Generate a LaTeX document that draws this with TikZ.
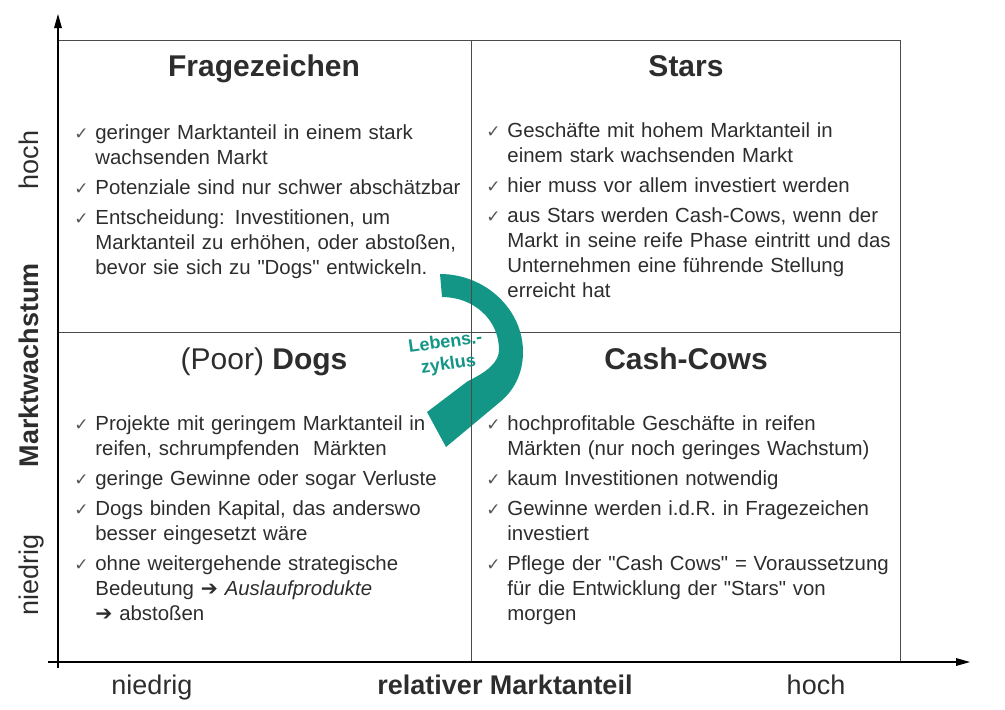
\documentclass[tikz,border=0pt]{standalone}
\usepackage{fontspec}
\setmainfont{Liberation Sans}
\newfontfamily\dingfont{DejaVu Sans}

\definecolor{txtgray}{RGB}{45,45,45}
\definecolor{linegray}{RGB}{75,75,75}
\definecolor{chkgray}{RGB}{85,85,85}
\definecolor{zyklus}{RGB}{20,150,135}

% one line of a quadrant list, with a check mark and a hanging indent
\newcommand{\chk}[1]{\noindent\hangindent=10.5pt\hangafter=1%
  \makebox[10.5pt][l]{\color{chkgray}\dingfont\fontsize{8.5}{8.5}\selectfont ✓}#1\par\vspace{2.5pt}}
\newcommand{\pfeil}{{\dingfont ➔}}
\newcommand{\qt}[1]{\textquotedbl #1\textquotedbl}

\tikzset{
  bcgtitle/.style={font=\fontsize{15}{18}\selectfont\bfseries, text=txtgray, inner sep=0pt, anchor=base},
  bcglist/.style={anchor=base west, text width=205pt, align=left, inner sep=0pt,
    font=\fontsize{10.2}{12.5}\selectfont, text=txtgray},
  axislabel/.style={font=\fontsize{13.5}{16}\selectfont, text=txtgray, inner sep=0pt, anchor=base},
  zyklustext/.style={font=\fontsize{9}{11}\selectfont\bfseries, text=zyklus, align=center, inner sep=0pt}
}

\begin{document}
\begin{tikzpicture}[x=0.5pt,y=0.5pt]
\useasboundingbox (0,0) rectangle (1005,-709);
% frame
\draw [linegray] (58,-332) -- (900,-332);
% life cycle arrow
\fill [zyklus] (440,-274) .. controls (485,-274) and (523,-309) .. (523,-352)
  .. controls (523,-376) and (512,-392) .. (500,-402)
  -- (446,-447) -- (427,-412) -- (468,-381)
  .. controls (487,-372) and (499,-362) .. (499,-350)
  .. controls (499,-319) and (473,-297) .. (442,-297) -- cycle;
\draw [linegray] (58,-40) -- (900,-40) -- (900,-662);
\draw [linegray] (471,-40) -- (471,-662);
% axes
\draw [black, line width=1pt] (58,-668) -- (58,-26);
\fill [black] (58,-14) -- (54,-28) -- (62,-28) -- cycle;
\draw [black, line width=1.2pt] (48,-662) -- (958,-662);
\fill [black] (970,-662) -- (956,-658) -- (956,-666) -- cycle;

% quadrant titles
\node [bcgtitle] (fragezeichen) at (264,-76) {Fragezeichen};
\node [bcgtitle] (stars) at (686,-76) {Stars};
\node [bcgtitle] (dogs) at (264,-369) {{\mdseries(Poor)} Dogs};
\node [bcgtitle] (cashcows) at (686,-369) {Cash-Cows};

% quadrant lists
\node [bcglist] (fragelist) at (74,-139) {%
\chk{geringer Marktanteil in einem stark\newline wachsenden Markt}
\chk{Potenziale sind nur schwer abschätzbar}
\chk{Entscheidung: Investitionen, um\newline Marktanteil zu erhöhen, oder abstoßen,\newline bevor sie sich zu \qt{Dogs} entwickeln.}};
\node [bcglist] (starslist) at (486,-137) {%
\chk{Geschäfte mit hohem Marktanteil in\newline einem stark wachsenden Markt}
\chk{hier muss vor allem investiert werden}
\chk{aus Stars werden Cash-Cows, wenn der\newline Markt in seine reife Phase eintritt und das\newline Unternehmen eine führende Stellung\newline erreicht hat}};
\node [bcglist] (dogslist) at (74,-430) {%
\chk{Projekte mit geringem Marktanteil in\newline reifen, schrumpfenden\ \ Märkten}
\chk{geringe Gewinne oder sogar Verluste}
\chk{Dogs binden Kapital, das anderswo\newline besser eingesetzt wäre}
\chk{ohne weitergehende strategische\newline Bedeutung \pfeil\ \textit{Auslaufprodukte}\newline \pfeil\ abstoßen}};
\node [bcglist] (cowslist) at (486,-430) {%
\chk{hochprofitable Geschäfte in reifen\newline Märkten (nur noch geringes Wachstum)}
\chk{kaum Investitionen notwendig}
\chk{Gewinne werden i.d.R. in Fragezeichen\newline investiert}
\chk{Pflege der \qt{Cash Cows} = Voraussetzung\newline für die Entwicklung der \qt{Stars} von\newline morgen}};

% life cycle label
\node [zyklustext, rotate=8] (lebenszyklus) at (447,-354) {Lebens.-\\zyklus};

% axis labels
\node [axislabel] (xniedrig) at (152,-694) {niedrig};
\node [axislabel, font=\fontsize{13.5}{16}\selectfont\bfseries] (xachse) at (505,-694) {relativer Marktanteil};
\node [axislabel] (xhoch) at (816,-694) {hoch};
\node [axislabel, rotate=90] (yhoch) at (39,-160) {hoch};
\node [axislabel, rotate=90, font=\fontsize{13.5}{16}\selectfont\bfseries] (yachse) at (39,-365) {Marktwachstum};
\node [axislabel, rotate=90] (yniedrig) at (39,-575) {niedrig};
\end{tikzpicture}
\end{document}
